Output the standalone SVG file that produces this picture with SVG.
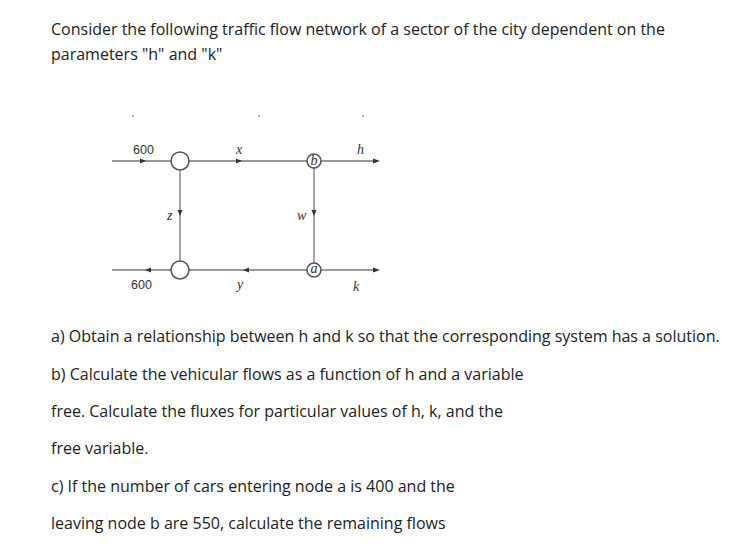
<svg xmlns="http://www.w3.org/2000/svg" width="739" height="560" viewBox="0 0 739 560">
<style>
.t{font-family:"Open Sans","Liberation Sans",sans-serif;font-size:16px;fill:#222}
.l{stroke:#777;stroke-width:1.3;fill:none}
.n{stroke:#555;stroke-width:1.5;fill:#fff}
.lb{font-family:"Liberation Serif",serif;font-style:italic;font-size:14px;fill:#333}
.num{font-family:"Liberation Sans",sans-serif;font-size:12.5px;fill:#333}
.a{fill:#333}
</style>
<rect width="739" height="560" fill="#fff"/>
<text class="t" x="51" y="35">Consider the following traffic flow network of a sector of the city dependent on the</text>
<text class="t" x="51" y="60">parameters "h" and "k"</text>
<g id="ticks" stroke="#666" stroke-width="1"><line x1="132" y1="116" x2="134" y2="116"/><line x1="258" y1="116" x2="260" y2="116"/><line x1="362" y1="116" x2="364" y2="116"/></g>
<g id="connectors">
<line class="l" x1="112" y1="161" x2="376" y2="161"/>
<line class="l" x1="112" y1="270" x2="376" y2="270"/>
<line class="l" x1="180" y1="161" x2="180" y2="270"/>
<line class="l" x1="314" y1="161" x2="314" y2="270"/>
<path class="a" d="M146 161 l-6 -2.5 v5z M242 161 l-6 -2.5 v5z M380 161 l-7 -2.5 v5z M145 270 l6 -2.5 v5z M243 270 l6 -2.5 v5z M380 270 l-7 -2.5 v5z M180 216 l-2.5 -6 h5z M314 216 l-2.5 -6 h5z"/>
</g>
<g id="labels">
<text class="num" x="133" y="154">600</text>
<text class="num" x="131" y="289">600</text>
<text class="lb" x="236" y="154">x</text>
<text class="lb" x="357" y="154">h</text>
<text class="lb" x="167" y="220">z</text>
<text class="lb" x="297" y="220">w</text>
<text class="lb" x="237" y="289">y</text>
<text class="lb" x="353" y="291">k</text>
</g>
<g id="node1"><circle class="n" cx="180" cy="161" r="9"/></g>
<g id="node2"><circle class="n" cx="180" cy="270" r="9"/></g>
<g id="nodeb"><circle class="n" cx="314" cy="161" r="7"/><text class="lb" x="314" y="165" text-anchor="middle" font-size="10">b</text></g>
<g id="nodea"><circle class="n" cx="314" cy="270" r="7"/><text class="lb" x="314" y="273" text-anchor="middle" font-size="10">a</text></g>
<text class="t" x="51" y="342">a) Obtain a relationship between h and k so that the corresponding system has a solution.</text>
<text class="t" x="51" y="380">b) Calculate the vehicular flows as a function of h and a variable</text>
<text class="t" x="51" y="417">free. Calculate the fluxes for particular values of h, k, and the</text>
<text class="t" x="51" y="454">free variable.</text>
<text class="t" x="51" y="492">c) If the number of cars entering node a is 400 and the</text>
<text class="t" x="51" y="529">leaving node b are 550, calculate the remaining flows</text>
</svg>
